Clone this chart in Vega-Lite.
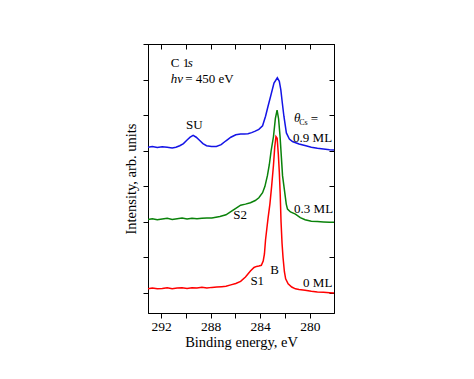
{
  "$schema": "https://vega.github.io/schema/vega-lite/v6.json",
  "width": 186,
  "height": 269,
  "autosize": {"type": "none"},
  "padding": {"left": 148, "top": 44, "right": 140, "bottom": 66},
  "background": "white",
  "config": {
    "font": "'Liberation Serif', 'Times New Roman', 'DejaVu Serif', serif",
    "view": {"stroke": "black", "strokeWidth": 1},
    "text": {"font": "'Liberation Serif', 'Times New Roman', 'DejaVu Serif', serif"},
    "axis": {"grid": false, "domainColor": "black", "tickColor": "black", "labelColor": "black", "titleColor": "black", "titleFontWeight": "normal", "labelFont": "'Liberation Serif', 'Times New Roman', 'DejaVu Serif', serif", "titleFont": "'Liberation Serif', 'Times New Roman', 'DejaVu Serif', serif"}
  },
  "datasets": {
    "curves": [
      {"E": 293.05, "I": 0.12, "s": "0 ML"}, {"E": 292.7, "I": 0.14, "s": "0 ML"}, {"E": 292.3, "I": 0.12, "s": "0 ML"}, {"E": 291.9, "I": 0.13, "s": "0 ML"}, {"E": 291.5, "I": 0.15, "s": "0 ML"}, {"E": 291.1, "I": 0.12, "s": "0 ML"}, {"E": 290.7, "I": 0.14, "s": "0 ML"}, {"E": 290.3, "I": 0.15, "s": "0 ML"}, {"E": 289.9, "I": 0.13, "s": "0 ML"}, {"E": 289.5, "I": 0.15, "s": "0 ML"}, {"E": 289.1, "I": 0.14, "s": "0 ML"}, {"E": 288.7, "I": 0.16, "s": "0 ML"}, {"E": 288.3, "I": 0.14, "s": "0 ML"}, {"E": 287.9, "I": 0.16, "s": "0 ML"}, {"E": 287.5, "I": 0.17, "s": "0 ML"}, {"E": 287.1, "I": 0.18, "s": "0 ML"},
      {"E": 286.76, "I": 0.19, "s": "0 ML"}, {"E": 286.37, "I": 0.23, "s": "0 ML"}, {"E": 285.97, "I": 0.27, "s": "0 ML"}, {"E": 285.58, "I": 0.33, "s": "0 ML"}, {"E": 285.19, "I": 0.45, "s": "0 ML"}, {"E": 284.79, "I": 0.62, "s": "0 ML"}, {"E": 284.5, "I": 0.72, "s": "0 ML"}, {"E": 284.3, "I": 0.75, "s": "0 ML"}, {"E": 284.11, "I": 0.76, "s": "0 ML"}, {"E": 283.91, "I": 0.78, "s": "0 ML"}, {"E": 283.76, "I": 0.9, "s": "0 ML"}, {"E": 283.66, "I": 1.1, "s": "0 ML"}, {"E": 283.57, "I": 1.5, "s": "0 ML"}, {"E": 283.47, "I": 1.8, "s": "0 ML"}, {"E": 283.37, "I": 2.1, "s": "0 ML"}, {"E": 283.22, "I": 2.5, "s": "0 ML"}, {"E": 283.08, "I": 3.0, "s": "0 ML"}, {"E": 282.93, "I": 3.6, "s": "0 ML"}, {"E": 282.83, "I": 4.1, "s": "0 ML"}, {"E": 282.73, "I": 4.4, "s": "0 ML"}, {"E": 282.635, "I": 4.35, "s": "0 ML"}, {"E": 282.54, "I": 3.9, "s": "0 ML"}, {"E": 282.46, "I": 3.4, "s": "0 ML"}, {"E": 282.39, "I": 2.8, "s": "0 ML"}, {"E": 282.32, "I": 2.0, "s": "0 ML"}, {"E": 282.24, "I": 1.4, "s": "0 ML"}, {"E": 282.16, "I": 1.0, "s": "0 ML"}, {"E": 282.05, "I": 0.6, "s": "0 ML"}, {"E": 281.95, "I": 0.4, "s": "0 ML"}, {"E": 281.75, "I": 0.26, "s": "0 ML"}, {"E": 281.46, "I": 0.17, "s": "0 ML"}, {"E": 281.16, "I": 0.12, "s": "0 ML"}, {"E": 280.87, "I": 0.1, "s": "0 ML"}, {"E": 280.38, "I": 0.08, "s": "0 ML"}, {"E": 279.88, "I": 0.05, "s": "0 ML"}, {"E": 279.39, "I": 0.03, "s": "0 ML"}, {"E": 278.9, "I": 0.02, "s": "0 ML"}, {"E": 278.41, "I": 0.01, "s": "0 ML"}, {"E": 278.05, "I": 0.0, "s": "0 ML"},

      {"E": 293.05, "I": 2.07, "s": "0.3 ML"}, {"E": 292.7, "I": 2.09, "s": "0.3 ML"}, {"E": 292.3, "I": 2.06, "s": "0.3 ML"}, {"E": 291.9, "I": 2.08, "s": "0.3 ML"}, {"E": 291.5, "I": 2.1, "s": "0.3 ML"}, {"E": 291.1, "I": 2.07, "s": "0.3 ML"}, {"E": 290.7, "I": 2.09, "s": "0.3 ML"}, {"E": 290.3, "I": 2.11, "s": "0.3 ML"}, {"E": 289.9, "I": 2.08, "s": "0.3 ML"}, {"E": 289.5, "I": 2.1, "s": "0.3 ML"}, {"E": 289.1, "I": 2.09, "s": "0.3 ML"}, {"E": 288.7, "I": 2.1, "s": "0.3 ML"}, {"E": 288.3, "I": 2.11, "s": "0.3 ML"}, {"E": 287.9, "I": 2.11, "s": "0.3 ML"},
      {"E": 287.25, "I": 2.15, "s": "0.3 ML"}, {"E": 286.76, "I": 2.2, "s": "0.3 ML"}, {"E": 286.37, "I": 2.29, "s": "0.3 ML"}, {"E": 285.97, "I": 2.38, "s": "0.3 ML"}, {"E": 285.58, "I": 2.47, "s": "0.3 ML"}, {"E": 285.19, "I": 2.5, "s": "0.3 ML"}, {"E": 284.79, "I": 2.54, "s": "0.3 ML"}, {"E": 284.4, "I": 2.6, "s": "0.3 ML"}, {"E": 284.11, "I": 2.68, "s": "0.3 ML"}, {"E": 283.81, "I": 2.82, "s": "0.3 ML"}, {"E": 283.62, "I": 3.0, "s": "0.3 ML"}, {"E": 283.42, "I": 3.3, "s": "0.3 ML"}, {"E": 283.27, "I": 3.6, "s": "0.3 ML"}, {"E": 283.12, "I": 4.0, "s": "0.3 ML"}, {"E": 282.93, "I": 4.4, "s": "0.3 ML"}, {"E": 282.78, "I": 4.9, "s": "0.3 ML"}, {"E": 282.64, "I": 5.14, "s": "0.3 ML"}, {"E": 282.52, "I": 4.9, "s": "0.3 ML"}, {"E": 282.4, "I": 4.4, "s": "0.3 ML"}, {"E": 282.29, "I": 3.8, "s": "0.3 ML"}, {"E": 282.2, "I": 3.3, "s": "0.3 ML"}, {"E": 282.05, "I": 2.9, "s": "0.3 ML"}, {"E": 281.9, "I": 2.5, "s": "0.3 ML"}, {"E": 281.8, "I": 2.36, "s": "0.3 ML"}, {"E": 281.56, "I": 2.28, "s": "0.3 ML"}, {"E": 281.16, "I": 2.22, "s": "0.3 ML"}, {"E": 280.77, "I": 2.12, "s": "0.3 ML"}, {"E": 280.38, "I": 2.06, "s": "0.3 ML"}, {"E": 279.88, "I": 2.02, "s": "0.3 ML"}, {"E": 279.39, "I": 2.01, "s": "0.3 ML"}, {"E": 278.9, "I": 2.0, "s": "0.3 ML"}, {"E": 278.41, "I": 1.99, "s": "0.3 ML"}, {"E": 278.05, "I": 1.99, "s": "0.3 ML"},

      {"E": 293.05, "I": 4.1, "s": "0.9 ML"}, {"E": 292.7, "I": 4.12, "s": "0.9 ML"}, {"E": 292.3, "I": 4.09, "s": "0.9 ML"}, {"E": 291.9, "I": 4.11, "s": "0.9 ML"}, {"E": 291.5, "I": 4.1, "s": "0.9 ML"}, {"E": 291.1, "I": 4.08, "s": "0.9 ML"}, {"E": 290.8, "I": 4.1, "s": "0.9 ML"},
      {"E": 290.49, "I": 4.14, "s": "0.9 ML"}, {"E": 290.19, "I": 4.2, "s": "0.9 ML"}, {"E": 289.9, "I": 4.3, "s": "0.9 ML"}, {"E": 289.65, "I": 4.38, "s": "0.9 ML"}, {"E": 289.41, "I": 4.43, "s": "0.9 ML"}, {"E": 289.16, "I": 4.38, "s": "0.9 ML"}, {"E": 288.92, "I": 4.3, "s": "0.9 ML"}, {"E": 288.62, "I": 4.2, "s": "0.9 ML"}, {"E": 288.33, "I": 4.14, "s": "0.9 ML"}, {"E": 287.93, "I": 4.12, "s": "0.9 ML"}, {"E": 287.54, "I": 4.12, "s": "0.9 ML"}, {"E": 287.15, "I": 4.17, "s": "0.9 ML"}, {"E": 286.76, "I": 4.28, "s": "0.9 ML"}, {"E": 286.37, "I": 4.38, "s": "0.9 ML"}, {"E": 285.97, "I": 4.45, "s": "0.9 ML"}, {"E": 285.58, "I": 4.47, "s": "0.9 ML"}, {"E": 285.29, "I": 4.47, "s": "0.9 ML"}, {"E": 284.99, "I": 4.48, "s": "0.9 ML"}, {"E": 284.69, "I": 4.51, "s": "0.9 ML"}, {"E": 284.4, "I": 4.55, "s": "0.9 ML"}, {"E": 284.11, "I": 4.6, "s": "0.9 ML"}, {"E": 283.81, "I": 4.7, "s": "0.9 ML"}, {"E": 283.57, "I": 4.97, "s": "0.9 ML"}, {"E": 283.37, "I": 5.25, "s": "0.9 ML"}, {"E": 283.16, "I": 5.53, "s": "0.9 ML"}, {"E": 282.89, "I": 5.9, "s": "0.9 ML"}, {"E": 282.62, "I": 6.05, "s": "0.9 ML"}, {"E": 282.46, "I": 5.95, "s": "0.9 ML"}, {"E": 282.34, "I": 5.72, "s": "0.9 ML"}, {"E": 282.22, "I": 5.35, "s": "0.9 ML"}, {"E": 282.09, "I": 4.97, "s": "0.9 ML"}, {"E": 281.89, "I": 4.5, "s": "0.9 ML"}, {"E": 281.65, "I": 4.33, "s": "0.9 ML"}, {"E": 281.4, "I": 4.26, "s": "0.9 ML"}, {"E": 280.87, "I": 4.19, "s": "0.9 ML"}, {"E": 280.32, "I": 4.14, "s": "0.9 ML"}, {"E": 279.88, "I": 4.1, "s": "0.9 ML"}, {"E": 279.39, "I": 4.07, "s": "0.9 ML"}, {"E": 278.9, "I": 4.05, "s": "0.9 ML"}, {"E": 278.41, "I": 4.03, "s": "0.9 ML"}, {"E": 278.05, "I": 4.02, "s": "0.9 ML"}
    ],
    "leftText": [
      {"E": 291.21, "I": 6.47, "t": "C 1"},
      {"E": 290.05, "I": 6.03, "t": "= 450 eV"},
      {"E": 279.92, "I": 4.89, "t": "="},
      {"E": 281.35, "I": 4.35, "t": "0.9 ML"},
      {"E": 281.27, "I": 2.35, "t": "0.3 ML"},
      {"E": 280.54, "I": 0.27, "t": "0 ML"}
    ],
    "centerText": [
      {"E": 289.32, "I": 4.72, "t": "SU"},
      {"E": 285.62, "I": 2.19, "t": "S2"},
      {"E": 284.24, "I": 0.34, "t": "S1"},
      {"E": 282.84, "I": 0.66, "t": "B"}
    ],
    "italicText": [
      {"E": 289.85, "I": 6.47, "t": "s"},
      {"E": 291.21, "I": 6.03, "t": "hν"},
      {"E": 281.27, "I": 4.91, "t": "θ"}
    ],
    "subText": [
      {"E": 280.86, "I": 4.77, "t": "Cs"}
    ]
  },
  "resolve": {"axis": {"x": "independent", "y": "independent"}},
  "layer": [
    {
      "data": {"name": "curves"},
      "mark": {"type": "line", "strokeWidth": 1.5},
      "encoding": {
        "x": {"field": "E", "type": "quantitative", "scale": {"domain": [278.05, 293.05], "reverse": true, "nice": false, "zero": false},
          "axis": {"orient": "bottom", "values": [292, 290, 288, 286, 284, 282, 280], "labelExpr": "datum.value % 4 == 0 ? datum.label : ''", "tickSize": 5, "labelFontSize": 13.5, "labelPadding": 1, "title": "Binding energy, eV", "titleFontSize": 14.5, "titlePadding": 3, "domain": true}},
        "y": {"field": "I", "type": "quantitative", "scale": {"domain": [-0.56, 7.0], "nice": false, "zero": false},
          "axis": {"orient": "left", "values": [0, 1, 2, 3, 4, 5, 6, 7], "labels": false, "tickSize": 5, "title": "Intensity, arb. units", "titleFontSize": 14.5, "titlePadding": 4}},
        "color": {"field": "s", "type": "nominal", "scale": {"domain": ["0 ML", "0.3 ML", "0.9 ML"], "range": ["#ff0000", "#0a820a", "#1414e6"]}, "legend": null}
      }
    },
    {
      "data": {"name": "leftText"},
      "mark": {"type": "text", "align": "left", "baseline": "middle", "fontSize": 13, "color": "black"},
      "encoding": {
        "x": {"field": "E", "type": "quantitative", "scale": {"domain": [278.05, 293.05], "reverse": true, "nice": false, "zero": false},
          "axis": {"orient": "top", "values": [292, 290, 288, 286, 284, 282, 280], "labels": false, "tickSize": -5, "title": null, "domain": true}},
        "y": {"field": "I", "type": "quantitative", "scale": {"domain": [-0.56, 7.0], "nice": false, "zero": false},
          "axis": {"orient": "right", "values": [0, 1, 2, 3, 4, 5, 6, 7], "labels": false, "tickSize": -5, "title": null, "domain": true}},
        "text": {"field": "t"}
      }
    },
    {
      "data": {"name": "centerText"},
      "mark": {"type": "text", "align": "center", "baseline": "middle", "fontSize": 13, "color": "black"},
      "encoding": {
        "x": {"field": "E", "type": "quantitative", "scale": {"domain": [278.05, 293.05], "reverse": true, "nice": false, "zero": false}, "axis": null},
        "y": {"field": "I", "type": "quantitative", "scale": {"domain": [-0.56, 7.0], "nice": false, "zero": false}, "axis": null},
        "text": {"field": "t"}
      }
    },
    {
      "data": {"name": "italicText"},
      "mark": {"type": "text", "align": "left", "baseline": "middle", "fontSize": 13, "fontStyle": "italic", "color": "black"},
      "encoding": {
        "x": {"field": "E", "type": "quantitative", "scale": {"domain": [278.05, 293.05], "reverse": true, "nice": false, "zero": false}, "axis": null},
        "y": {"field": "I", "type": "quantitative", "scale": {"domain": [-0.56, 7.0], "nice": false, "zero": false}, "axis": null},
        "text": {"field": "t"}
      }
    },
    {
      "data": {"name": "subText"},
      "mark": {"type": "text", "align": "left", "baseline": "middle", "fontSize": 8, "color": "black"},
      "encoding": {
        "x": {"field": "E", "type": "quantitative", "scale": {"domain": [278.05, 293.05], "reverse": true, "nice": false, "zero": false}, "axis": null},
        "y": {"field": "I", "type": "quantitative", "scale": {"domain": [-0.56, 7.0], "nice": false, "zero": false}, "axis": null},
        "text": {"field": "t"}
      }
    }
  ]
}
